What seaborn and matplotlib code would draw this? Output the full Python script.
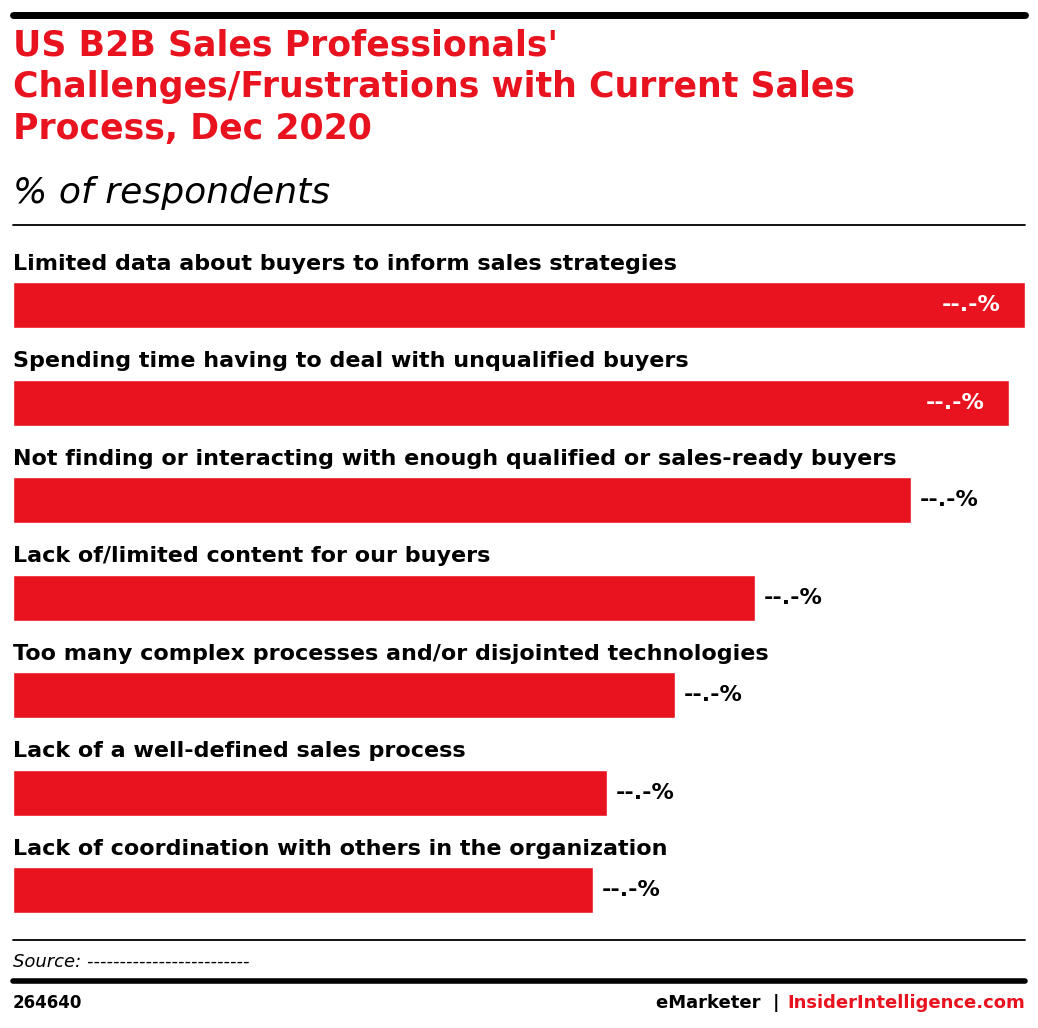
import matplotlib
matplotlib.use("Agg")
import matplotlib.pyplot as plt
import seaborn as sns
import pandas as pd
from matplotlib.lines import Line2D

categories = [
    "Limited data about buyers to inform sales strategies",
    "Spending time having to deal with unqualified buyers",
    "Not finding or interacting with enough qualified or sales-ready buyers",
    "Lack of/limited content for our buyers",
    "Too many complex processes and/or disjointed technologies",
    "Lack of a well-defined sales process",
    "Lack of coordination with others in the organization",
]
values = [50.6, 49.8, 44.9, 37.1, 33.1, 29.7, 29.0]
value_labels = ["--.-%"] * 7

RED = "#E8131F"
W, H = 1038, 1028
sns.set_style("white")
plt.rcParams["font.family"] = ["DejaVu Sans"]
plt.rcParams["text.color"] = "black"

fig = plt.figure(figsize=(W / 100, H / 100), dpi=100)
ax = fig.add_axes([0, 0, 1, 1])
df = pd.DataFrame({"cat": categories, "val": values})
sns.barplot(data=df, y="cat", x="val", color=RED, width=46 / 97.5,
            saturation=1, ax=ax, orient="h")
# pixel mapping: 20 px per unit, bar 0 centre at y=305.5, pitch 97.5
ax.set_xlim(-13 / 20, (W - 13) / 20)
ax.set_ylim(6 + (H - 890.5) / 97.5, -305.5 / 97.5)
ax.axis("off")

for i, (c, v, lab) in enumerate(zip(categories, values, value_labels)):
    ax.text(0, i - 0.43, c, fontsize=16, fontweight="bold", va="center", ha="left")
    if v > 48:
        ax.text(v - 1.2, i, lab, color="white", fontsize=16, fontweight="bold",
                va="center", ha="right")
    else:
        ax.text(v + 0.45, i, lab, color="black", fontsize=16, fontweight="bold",
                va="center", ha="left")

def hline(y, lw):
    fig.add_artist(Line2D([13 / W, 1025 / W], [1 - y / H, 1 - y / H],
                          color="black", lw=lw, transform=fig.transFigure))

hline(15, 5)
hline(225, 1.3)
hline(940, 1.3)
hline(981, 4)

title = "US B2B Sales Professionals'\nChallenges/Frustrations with Current Sales\nProcess, Dec 2020"
fig.text(13 / W, 1 - 28 / H, title, color=RED, fontsize=25, fontweight="bold",
         va="top", ha="left", linespacing=1.3)
fig.text(13 / W, 1 - 193 / H, "% of respondents", fontsize=26, style="italic",
         va="center", ha="left")
fig.text(13 / W, 1 - 962 / H, "Source: -------------------------", fontsize=13,
         style="italic", va="center", ha="left")
fig.text(13 / W, 1 - 1003 / H, "264640", fontsize=12, fontweight="bold",
         va="center", ha="left")
fig.text(1025 / W, 1 - 1003 / H, "InsiderIntelligence.com", fontsize=13,
         fontweight="bold", color=RED, va="center", ha="right")
fig.text(780 / W, 1 - 1003 / H, "eMarketer  |", fontsize=13, fontweight="bold",
         va="center", ha="right")

fig.savefig("out.png", dpi=100)
